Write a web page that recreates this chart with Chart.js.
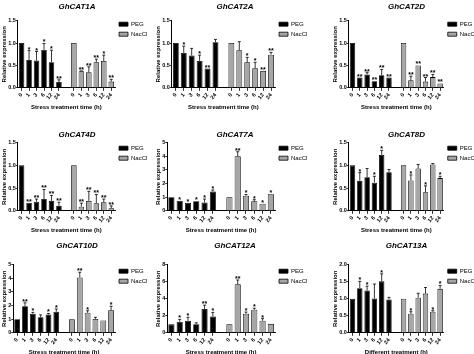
<!DOCTYPE html>
<html><head><meta charset="utf-8">
<script src="https://cdn.jsdelivr.net/npm/chart.js@4.4.1/dist/chart.umd.min.js"></script>
<style>
html,body{margin:0;padding:0;background:#fff;width:474px;height:354px;overflow:hidden;position:relative}
.p{position:absolute}
</style></head><body>
<div class="p" style="left:0;top:0;width:153px;height:111px"><canvas id="c1"></canvas></div>
<div class="p" style="left:154px;top:0;width:161px;height:111px"><canvas id="c2"></canvas></div>
<div class="p" style="left:331px;top:0;width:150px;height:111px"><canvas id="c3"></canvas></div>
<div class="p" style="left:0;top:128px;width:153px;height:106px"><canvas id="c4"></canvas></div>
<div class="p" style="left:154px;top:128px;width:161px;height:106px"><canvas id="c5"></canvas></div>
<div class="p" style="left:331px;top:128px;width:150px;height:106px"><canvas id="c6"></canvas></div>
<div class="p" style="left:0;top:239px;width:153px;height:117px"><canvas id="c7"></canvas></div>
<div class="p" style="left:154px;top:239px;width:161px;height:117px"><canvas id="c8"></canvas></div>
<div class="p" style="left:331px;top:239px;width:150px;height:117px"><canvas id="c9"></canvas></div>
<script>
// ---- data ----
const times = ['0','1','3','6','12','24'];
const seriesNames = ['PEG','NacCl'];
const geneNames = ['GhCAT1A','GhCAT2A','GhCAT2D','GhCAT4D','GhCAT7A','GhCAT8D','GhCAT10D','GhCAT12A','GhCAT13A'];
const xTitles = ['Stress treatment time (h)','Stress treatment time (h)','Stress treatment time (h)','Stress treatment time (h)','Stress treatment time (h)','Stress treatment time (h)','Stress treatment time (h)','Stress treatment time (h)','Different treatment (h)'];
const yMaxes = [1.5,1.5,1.5,1.5,5,1.5,5,8,2.0];
const ySteps = [0.5,0.5,0.5,0.5,1,0.5,1,2,0.5];

const cat1aPeg = [1.0,0.62,0.61,0.85,0.57,0.13];
const cat1aPegErr = [0,0.21,0.2,0.14,0.27,0.05];
const cat1aPegSig = ['','*','*','*','*','**'];
const cat1aNacl = [1.0,0.37,0.35,0.57,0.60,0.14];
const cat1aNaclErr = [0,0.01,0.12,0.07,0.13,0.05];
const cat1aNaclSig = ['','**','**','**','*','**'];

const cat2aPeg = [1.0,0.78,0.72,0.60,0.43,1.02];
const cat2aPegErr = [0,0.15,0.16,0.13,0,0.06];
const cat2aPegSig = ['','*','','*','**',''];
const cat2aNacl = [1.0,0.84,0.57,0.44,0.38,0.74];
const cat2aNaclErr = [0,0.19,0.11,0.13,0,0.05];
const cat2aNaclSig = ['','','*','*','**','**'];

const cat2dPeg = [1.0,0.23,0.30,0.15,0.28,0.23];
const cat2dPegErr = [0,0,0.04,0,0.13,0];
const cat2dPegSig = ['','**','**','**','**','**'];
const cat2dNacl = [1.0,0.17,0.50,0.14,0.24,0.10];
const cat2dNaclErr = [0,0.09,0,0.09,0.06,0];
const cat2dNaclSig = ['','**','**','**','**','**'];

const cat4dPeg = [1.0,0.18,0.20,0.26,0.22,0.11];
const cat4dPegErr = [0,0,0.06,0.21,0.12,0.08];
const cat4dPegSig = ['','**','**','**','**','**'];
const cat4dNacl = [1.0,0.09,0.22,0.17,0.19,0.06];
const cat4dNaclErr = [0,0.08,0.21,0.19,0.07,0.05];
const cat4dNaclSig = ['','**','**','**','**','**'];

const cat7aPeg = [1.0,0.74,0.60,0.70,0.62,1.41];
const cat7aPegErr = [0,0,0,0,0.25,0.12];
const cat7aPegSig = ['','*','*','*','*','*'];
const cat7aNacl = [1.0,4.0,1.11,0.70,0.52,1.21];
const cat7aNaclErr = [0,0.33,0.09,0.12,0,0];
const cat7aNaclSig = ['','**','*','*','*','*'];

const cat8dPeg = [1.0,0.66,0.74,0.62,1.23,0.85];
const cat8dPegErr = [0,0.18,0.19,0.14,0.10,0.06];
const cat8dPegSig = ['','*','','*','*',''];
const cat8dNacl = [1.0,0.67,0.93,0.41,1.02,0.72];
const cat8dNaclErr = [0,0.12,0.09,0.14,0.02,0.04];
const cat8dNaclSig = ['','*','','*','','*'];

const cat10dPeg = [1.0,1.95,1.40,1.14,1.35,1.55];
const cat10dPegErr = [0,0.25,0.1,0.18,0.07,0.2];
const cat10dPegSig = ['','**','*','','*','*'];
const cat10dNacl = [1.0,4.06,1.47,1.02,0.91,1.65];
const cat10dNaclErr = [0,0.38,0.15,0.12,0,0.3];
const cat10dNaclSig = ['','**','*','','','*'];

const cat12aPeg = [1.0,1.30,1.42,1.02,2.80,1.91];
const cat12aPegErr = [0,0.28,0.41,0.16,0.45,0.49];
const cat12aPegSig = ['','*','*','','**','*'];
const cat12aNacl = [1.0,5.70,2.24,2.72,1.42,1.06];
const cat12aNaclErr = [0,0.5,0.2,0.16,0.25,0];
const cat12aNaclSig = ['','**','*','*','*',''];

const cat13aPeg = [1.0,1.31,1.24,1.01,1.51,0.98];
const cat13aPegErr = [0,0.20,0.13,0.42,0.22,0.06];
const cat13aPegSig = ['','*','*','','*',''];
const cat13aNacl = [1.0,0.56,1.03,1.15,0.62,1.29];
const cat13aNaclErr = [0,0.06,0.13,0.18,0.03,0.10];
const cat13aNaclSig = ['','*','','','*','*'];

const pegSets = [cat1aPeg,cat2aPeg,cat2dPeg,cat4dPeg,cat7aPeg,cat8dPeg,cat10dPeg,cat12aPeg,cat13aPeg];
const pegErrs = [cat1aPegErr,cat2aPegErr,cat2dPegErr,cat4dPegErr,cat7aPegErr,cat8dPegErr,cat10dPegErr,cat12aPegErr,cat13aPegErr];
const pegSigs = [cat1aPegSig,cat2aPegSig,cat2dPegSig,cat4dPegSig,cat7aPegSig,cat8dPegSig,cat10dPegSig,cat12aPegSig,cat13aPegSig];
const naclSets = [cat1aNacl,cat2aNacl,cat2dNacl,cat4dNacl,cat7aNacl,cat8dNacl,cat10dNacl,cat12aNacl,cat13aNacl];
const naclErrs = [cat1aNaclErr,cat2aNaclErr,cat2dNaclErr,cat4dNaclErr,cat7aNaclErr,cat8dNaclErr,cat10dNaclErr,cat12aNaclErr,cat13aNaclErr];
const naclSigs = [cat1aNaclSig,cat2aNaclSig,cat2dNaclSig,cat4dNaclSig,cat7aNaclSig,cat8dNaclSig,cat10dNaclSig,cat12aNaclSig,cat13aNaclSig];

// ---- chart ----
const FONT = "'Liberation Sans', Arial, sans-serif";
const labels = [...times, '', ...times];
const gap = [null];
const blank6 = times.map(()=>null);
const titlePadBottom = [9,9,9,3,3,3,14,14,14];
const legendOffset = [16,16,16,12,12,12,24,24,24];

const errPlugin = {
  id: 'errbars',
  afterDatasetsDraw(chart) {
    const ctx = chart.ctx, y = chart.scales.y;
    chart.data.datasets.forEach((ds, di) => {
      const meta = chart.getDatasetMeta(di);
      ds.data.forEach((v, i) => {
        if (v == null) return;
        const bar = meta.data[i];
        const e = ds.errors[i] || 0;
        const top = y.getPixelForValue(v + e);
        ctx.save();
        ctx.strokeStyle = '#000'; ctx.lineWidth = 0.8;
        if (e > 0) {
          ctx.beginPath();
          ctx.moveTo(bar.x, bar.y); ctx.lineTo(bar.x, top);
          ctx.moveTo(bar.x - 1.5, top); ctx.lineTo(bar.x + 1.5, top);
          ctx.stroke();
        }
        const s = ds.sig[i];
        if (s) {
          ctx.fillStyle = '#000';
          ctx.font = 'bold 7px ' + FONT;
          ctx.textAlign = 'center'; ctx.textBaseline = 'alphabetic';
          ctx.fillText(s, bar.x, top + 1);
        }
        ctx.restore();
      });
    });
  }
};

for (let k = 0; k < 9; k++) {
  const dec = ySteps[k] < 1 ? 1 : 0;
  new Chart(document.getElementById('c' + (k + 1)), {
    type: 'bar',
    data: {
      labels: labels,
      datasets: [
        { label: seriesNames[0], data: [...pegSets[k], ...gap, ...blank6], errors: [...pegErrs[k], 0, ...blank6], sig: [...pegSigs[k], '', ...blank6],
          backgroundColor: '#000', borderColor: '#000', borderWidth: 0.8, grouped: false, categoryPercentage: 1, barPercentage: 0.74 },
        { label: seriesNames[1], data: [...blank6, ...gap, ...naclSets[k]], errors: [...blank6, 0, ...naclErrs[k]], sig: [...blank6, '', ...naclSigs[k]],
          backgroundColor: '#a6a6a6', borderColor: '#000', borderWidth: 0.8, grouped: false, categoryPercentage: 1, barPercentage: 0.74 }
      ]
    },
    options: {
      responsive: true, maintainAspectRatio: false, animation: false, devicePixelRatio: 1,
      layout: { padding: { left: 1, right: 0, top: 0, bottom: 0 } },
      plugins: {
        title: { display: true, text: geneNames[k], color: '#000', font: { family: FONT, size: 8, weight: 'bold', style: 'italic' }, padding: { top: 2, bottom: titlePadBottom[k] } },
        legend: { position: 'right', align: 'start',
          title: { display: true, text: ' ', font: { size: 1 }, padding: { top: legendOffset[k], bottom: 0 } },
          labels: { color: '#000', boxWidth: 9, boxHeight: 4, padding: 4, font: { family: FONT, size: 6 } } },
        tooltip: { enabled: false }
      },
      scales: {
        x: {
          grid: { display: true, drawOnChartArea: false, drawTicks: true, tickLength: 3, offset: false,
                  color: (c) => (c.tick && c.tick.label === '') ? 'rgba(0,0,0,0)' : '#000', lineWidth: 0.8 },
          border: { display: true, color: '#000', width: 1 },
          ticks: { color: '#000', autoSkip: false, maxRotation: 50, minRotation: 50, padding: 1, font: { family: FONT, size: 5.5, weight: 'bold' } },
          title: { display: true, text: xTitles[k], color: '#000', padding: { top: 2, bottom: 0 }, font: { family: FONT, size: 6, weight: 'bold' } }
        },
        y: {
          min: 0, max: yMaxes[k],
          grid: { display: true, drawOnChartArea: false, drawTicks: true, tickLength: 2, color: '#000', lineWidth: 0.8 },
          border: { display: true, color: '#000', width: 1 },
          ticks: { stepSize: ySteps[k], color: '#000', padding: 0, font: { family: FONT, size: 5.5, weight: 'bold' },
                   callback: (v) => Number(v).toFixed(dec) },
          title: { display: true, text: 'Relative expression', color: '#000', padding: { top: 0, bottom: 0 }, font: { family: FONT, size: 6, weight: 'bold' } }
        }
      }
    },
    plugins: [errPlugin]
  });
}
</script>
</body></html>
